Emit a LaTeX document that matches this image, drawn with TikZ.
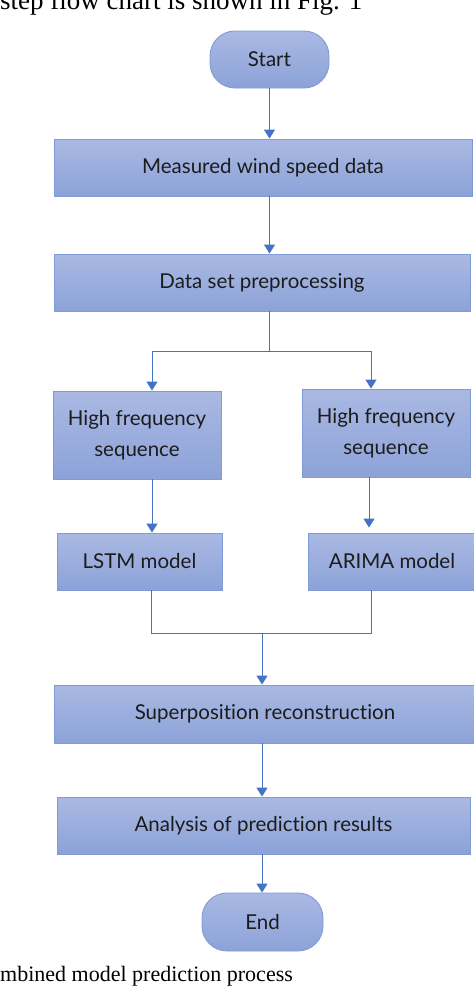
\documentclass[tikz,border=0pt]{standalone}
\usepackage{fontspec}
\setmainfont{Liberation Serif}
\newfontfamily\boxfont[Ligatures={NoCommon,NoDiscretionary}]{Lato}
\usetikzlibrary{arrows.meta}
\definecolor{boxtop}{HTML}{AAB9E3}
\definecolor{boxbot}{HTML}{8CA2D8}
\definecolor{bdr}{HTML}{7F9CD8}
\definecolor{arrc}{HTML}{4472C4}
\definecolor{txt}{HTML}{1C1C1C}
\tikzset{
  flowbox/.style={rectangle, draw=bdr, line width=0.9pt, top color=boxtop, bottom color=boxbot,
    text=txt, font=\boxfont\fontsize{20.5}{31}\selectfont, inner sep=0pt, align=center},
  termbox/.style={flowbox, rounded corners=25pt},
  conn/.style={draw=arrc, line width=1pt},
  arr/.style={conn, -{Triangle[width=11pt,length=9pt]}},
}
\begin{document}
\begin{tikzpicture}[x=1pt,y=-1pt]
\useasboundingbox (0,0) rectangle (474,991);
\fill[white] (0,0) rectangle (474,991);
\node[anchor=base west, inner sep=0pt, font=\fontsize{27}{32}\selectfont] (toptext) at (0,9) {step flow chart is shown in Fig. 1};
\node[anchor=base west, inner sep=0pt, font=\fontsize{22}{26}\selectfont] (caption) at (0,981) {mbined model prediction process};

\node[termbox, minimum width=119pt, minimum height=57pt] (start) at (269.5,59.5) {Start};
\node[flowbox, minimum width=418pt, minimum height=57pt] (meas) at (263,167.5) {Measured wind speed data};
\node[flowbox, minimum width=416pt, minimum height=57pt] (prep) at (262,282.5) {Data set preprocessing};
\node[flowbox, minimum width=168pt, minimum height=88pt] (hf1) at (137,435) {High frequency\\sequence};
\node[flowbox, minimum width=168pt, minimum height=88pt] (hf2) at (386,433) {High frequency\\sequence};
\node[flowbox, minimum width=165pt, minimum height=57pt] (lstm) at (139.5,561.5) {LSTM model};
\node[flowbox, minimum width=168pt, minimum height=57pt] (arima) at (392,561.5) {ARIMA model};
\node[flowbox, minimum width=422pt, minimum height=58pt] (super) at (265,714) {Superposition reconstruction};
\node[flowbox, minimum width=413pt, minimum height=57pt] (anal) at (263.5,825.5) {Analysis of prediction results};
\node[termbox, minimum width=121pt, minimum height=58pt] (end) at (262.5,922) {End};

\coordinate (split) at (269,351);
\coordinate (hl) at (152,351);
\coordinate (hr) at (371,351);
\coordinate (mergel) at (151,633);
\coordinate (merger) at (371,633);
\coordinate (merge) at (262,633);
\coordinate (rdown) at (369,0);

\draw[arr] (start.south) -- (start.south |- meas.north);
\draw[arr] (start.south |- meas.south) -- (start.south |- prep.north);
\draw[conn] (split |- prep.south) -- (split);
\draw[arr] (split) -- (hl) -- (hl |- hf1.north);
\draw[arr] (split) -- (hr) -- (hr |- hf2.north);
\draw[arr] (hl |- hf1.south) -- (hl |- lstm.north);
\draw[arr, shorten >=5pt] (rdown |- hf2.south) -- (rdown |- arima.north);
\draw[conn] (mergel |- lstm.south) -- (mergel) -- (merger) -- (merger |- arima.south);
\draw[arr] (merge) -- (merge |- super.north);
\draw[arr] (merge |- super.south) -- (merge |- anal.north);
\draw[arr] (merge |- anal.south) -- (merge |- end.north);
\end{tikzpicture}
\end{document}
